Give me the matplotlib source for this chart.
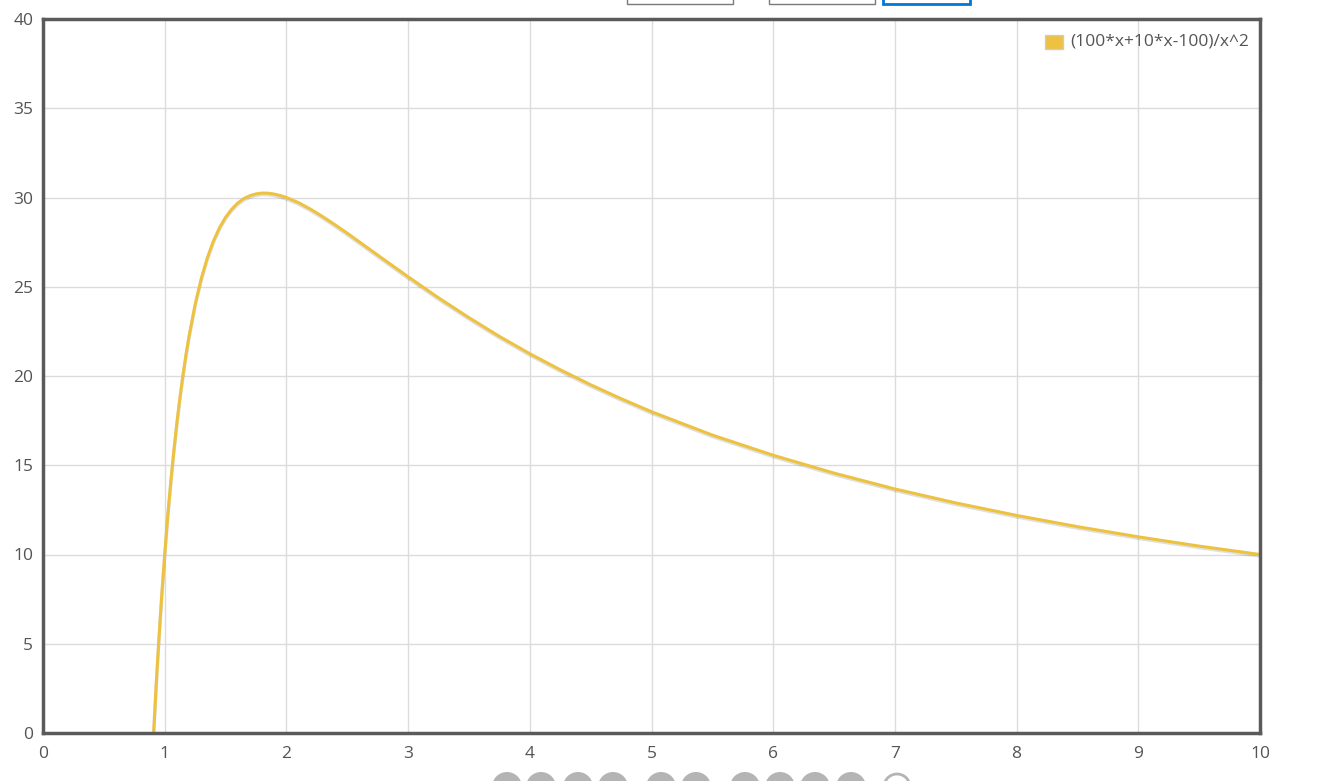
import matplotlib
matplotlib.use("Agg")
import matplotlib.pyplot as plt
import matplotlib.transforms as mtransforms
from matplotlib.patches import Rectangle, Ellipse

# Values
x_vals = [0.91, 0.93, 0.95, 0.975, 1.0, 1.025, 1.05, 1.075, 1.1, 1.125, 1.15,
          1.175, 1.2, 1.25, 1.3, 1.35, 1.4, 1.45, 1.5, 1.55, 1.6, 1.65, 1.7,
          1.75, 1.8, 1.85, 1.9, 1.95, 2.0, 2.1, 2.2, 2.3, 2.4, 2.5, 2.6, 2.7,
          2.8, 3.0, 3.25, 3.5, 3.75, 4.0, 4.25, 4.5, 4.75, 5.0, 5.5, 6.0, 6.5,
          7.0, 7.5, 8.0, 8.5, 9.0, 9.5, 10.0]
y_vals = [0.1, 2.66, 5.0, 7.63, 10.0, 12.14, 14.06, 15.79, 17.36, 18.77, 20.04,
          21.19, 22.22, 24.0, 25.44, 26.61, 27.55, 28.30, 28.89, 29.34, 29.69,
          29.94, 30.10, 30.20, 30.25, 30.24, 30.19, 30.11, 30.0, 29.71, 29.34,
          28.92, 28.47, 28.0, 27.51, 27.02, 26.53, 25.56, 24.38, 23.27, 22.22,
          21.25, 20.35, 19.51, 18.73, 18.0, 16.69, 15.56, 14.56, 13.67, 12.89,
          12.19, 11.56, 10.99, 10.47, 10.0]
series_label = "(100*x+10*x-100)/x^2"
x_ticks = [0, 1, 2, 3, 4, 5, 6, 7, 8, 9, 10]
y_ticks = [0, 5, 10, 15, 20, 25, 30, 35, 40]

W, H = 1326, 781
fig = plt.figure(figsize=(W / 100, H / 100), dpi=100)
plt.rcParams['font.family'] = ['Open Sans', 'DejaVu Sans']

L, R, T, B = 43, 1260, 19, 733
ax = fig.add_axes([L / W, 1 - B / H, (R - L) / W, (B - T) / H])
ax.set_xlim(0, 10)
ax.set_ylim(0, 40)
ax.set_xticks(x_ticks)
ax.set_yticks(y_ticks)
ax.tick_params(length=0, labelsize=12.5, labelcolor="#545454")
ax.tick_params(axis="x", pad=9)
ax.tick_params(axis="y", pad=7)
ax.grid(True, color="#dcdcdc", linewidth=1)
ax.set_axisbelow(True)
for s in ax.spines.values():
    s.set_color("#5a5a5a")
    s.set_linewidth(2.5)

# shadow
shadow_tr = ax.transData + mtransforms.ScaledTranslation(0, -1.5 / 100, fig.dpi_scale_trans)
ax.plot(x_vals, y_vals, color="#000000", alpha=0.12, linewidth=2.5, transform=shadow_tr,
        solid_capstyle="round", solid_joinstyle="round")
ax.plot(x_vals, y_vals, color="#edc240", linewidth=2.2, label=series_label,
        solid_capstyle="round", solid_joinstyle="round")

# legend
fig.patches.append(Rectangle((1045 / W, 1 - 49 / H), 18 / W, 14 / H,
                             transform=fig.transFigure, facecolor="#edc240",
                             edgecolor="#cccccc", linewidth=1))
fig.text(1070 / W, 1 - 42 / H, series_label, fontsize=12.5, color="#545454",
         va="center", ha="left")

# partial UI at top
for x0, w in [(627, 106), (769, 106)]:
    fig.patches.append(Rectangle((x0 / W, 1 - 4 / H), w / W, 10 / H,
                                 transform=fig.transFigure, facecolor="white",
                                 edgecolor="#7a7a7a", linewidth=1))
fig.patches.append(Rectangle((883 / W, 1 - 4 / H), 87 / W, 10 / H,
                             transform=fig.transFigure, facecolor="white",
                             edgecolor="#0078d7", linewidth=2))

# partial toolbar icons at bottom
r = 15
for cx in [507, 541, 578, 613, 661, 696, 745, 780, 815, 851]:
    fig.patches.append(Ellipse((cx / W, 1 - 787 / H), 2 * r / W, 2 * r / H,
                               transform=fig.transFigure, facecolor="#b4b4b4",
                               edgecolor="none"))
fig.patches.append(Ellipse((897 / W, 1 - 787 / H), 2 * 13 / W, 2 * 13 / H,
                           transform=fig.transFigure, facecolor="none",
                           edgecolor="#b4b4b4", linewidth=2))

fig.savefig("out.png", dpi=100)
